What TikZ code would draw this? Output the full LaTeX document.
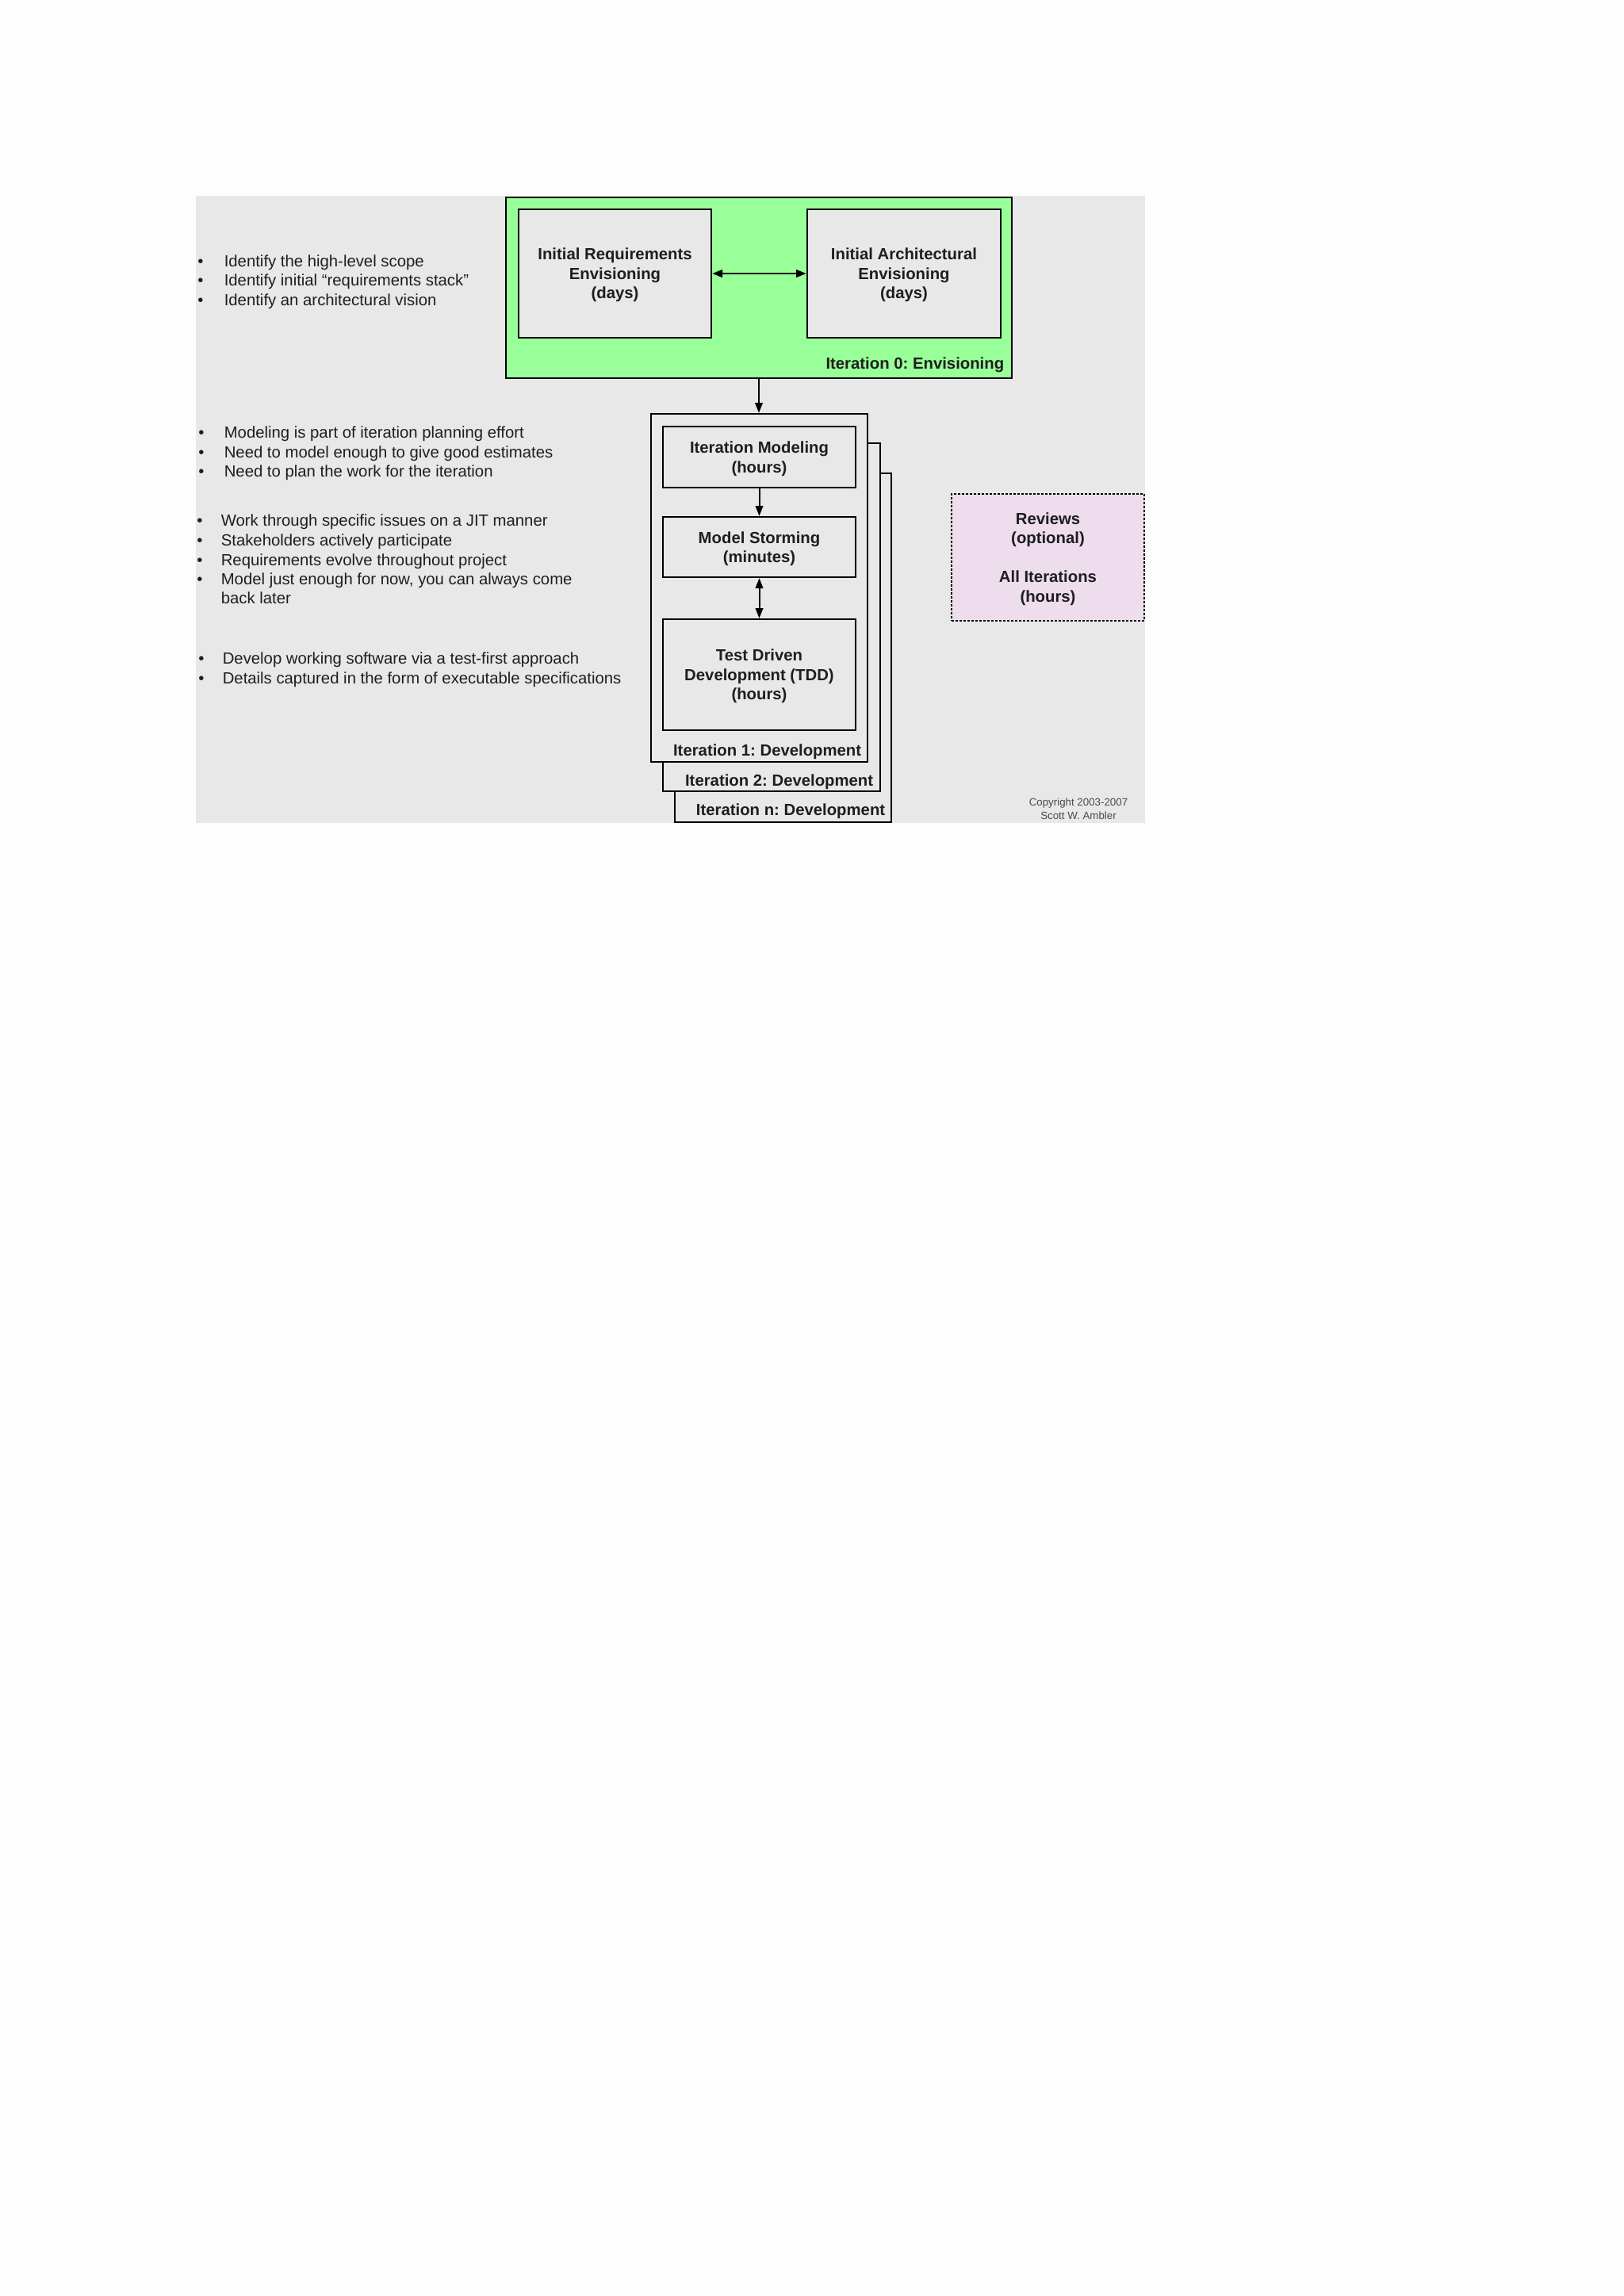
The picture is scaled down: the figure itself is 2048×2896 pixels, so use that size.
\documentclass[tikz,border=0pt]{standalone}
\usepackage{fontspec}
\setmainfont{Liberation Sans}
\usetikzlibrary{arrows.meta}
\definecolor{bggray}{RGB}{232,232,232}
\definecolor{envgreen}{RGB}{153,255,153}
\definecolor{revpink}{RGB}{237,221,237}
\definecolor{pagewhite}{RGB}{253,253,253}
\definecolor{inkgray}{RGB}{30,30,30}
\frenchspacing
\newcommand\bitem[5]{%
  \node[bulletmark] (#1b) at (#2,#4) {•};
  \node[btext] (#1) at (#3,#4) {#5};}
\begin{document}
\frenchspacing
\begin{tikzpicture}[x=0.25pt,y=-0.25pt,
  >={Triangle[length=3.2pt,width=2.4pt]},
  sized/.style 2 args={minimum width=#1*0.25pt, minimum height=#2*0.25pt},
  boxfont/.style={font=\bfseries\fontsize{5.08}{6.125}\selectfont},
  box/.style={draw=black, line width=0.6pt, fill=bggray, inner sep=0pt, boxfont, align=center, text=inkgray, text depth=0pt},
  framelabel/.style={anchor=base east, inner sep=0pt, boxfont, text=inkgray},
  btext/.style={anchor=base west, inner sep=0pt, font=\fontsize{5.08}{6.125}\selectfont, text=inkgray},
  bulletmark/.style={anchor=base, inner sep=0pt, font=\fontsize{5.08}{6.125}\selectfont, text=inkgray},
  conn/.style={line width=0.5pt, draw=black},
  smalltext/.style={inner sep=0pt, anchor=base, font=\fontsize{3.33}{4}\selectfont, text=inkgray!80}
]
\useasboundingbox (0,0) rectangle (2048,2896);
\fill[pagewhite] (0,0) rectangle (2048,2896);
\fill[bggray] (247,247) rectangle (1444,1038);

% Iteration 0
\node[box, fill=envgreen, sized={638}{228}] (env) at (957,363) {};
\node[box, sized={243}{162}] (ir) at (775.5,345) {Initial Requirements\\Envisioning\\(days)};
\node[box, sized={244}{162}] (ia) at (1140,345) {Initial Architectural\\Envisioning\\(days)};
\node[framelabel] (envlbl) at (1267,465) {Iteration 0: Envisioning};
\draw[conn, <->] (ir.east) -- (ia.west);

% Iteration frames
\node[box, sized={273}{440}] (itn) at (987.5,817) {};
\node[box, sized={274}{439}] (it2) at (973,778.5) {};
\node[box, sized={273}{439}] (it1) at (957.5,741.5) {};
\node[framelabel] (itnlbl) at (1117,1028) {Iteration n: Development};
\node[framelabel] (it2lbl) at (1102,991) {Iteration 2: Development};
\node[framelabel] (it1lbl) at (1087,953) {Iteration 1: Development};

\node[box, sized={243}{77}] (im) at (957.5,576.5) {Iteration Modeling\\(hours)};
\node[box, sized={243}{76}] (ms) at (957.5,690) {Model Storming\\(minutes)};
\node[box, sized={243}{140}] (tdd) at (957.5,851) {Test Driven\\Development (TDD)\\(hours)};

\draw[conn, ->] (env.south) -- (env.south |- it1.north);
\draw[conn, ->] (im) -- (ms);
\draw[conn, <->] (ms) -- (tdd);

% Reviews
\node[box, fill=revpink, dash pattern=on 0.7pt off 0.55pt, sized={243}{160}] (rev) at (1321.5,703) {};
\node[boxfont, inner sep=0pt, align=center, text=inkgray] (revtext) at (1321.5,705) {Reviews\\(optional)\\[6.125pt]All Iterations\\(hours)};

% Copyright
\node[smalltext] (copy1) at (1360,1016) {Copyright 2003-2007};
\node[smalltext] (copy2) at (1360,1033) {Scott W. Ambler};

% Bullets group 1
\bitem{a1}{253}{282}{336}{Identify the high-level scope}
\bitem{a2}{253}{282}{360}{Identify initial “requirements stack”}
\bitem{a3}{253}{282}{385}{Identify an architectural vision}
% group 2
\bitem{b1}{254}{282}{552}{Modeling is part of iteration planning effort}
\bitem{b2}{254}{282}{577}{Need to model enough to give good estimates}
\bitem{b3}{254}{282}{601}{Need to plan the work for the iteration}
% group 3
\bitem{c1}{252}{278}{663}{Work through specific issues on a JIT manner}
\bitem{c2}{252}{278}{688}{Stakeholders actively participate}
\bitem{c3}{252}{278}{713}{Requirements evolve throughout project}
\bitem{c4}{252}{278}{737}{Model just enough for now, you can always come}
\node[btext] (c5) at (278,761) {back later};
% group 4
\bitem{d1}{254}{280}{837}{Develop working software via a test-first approach}
\bitem{d2}{254}{280}{862}{Details captured in the form of executable specifications}
\end{tikzpicture}
\end{document}
